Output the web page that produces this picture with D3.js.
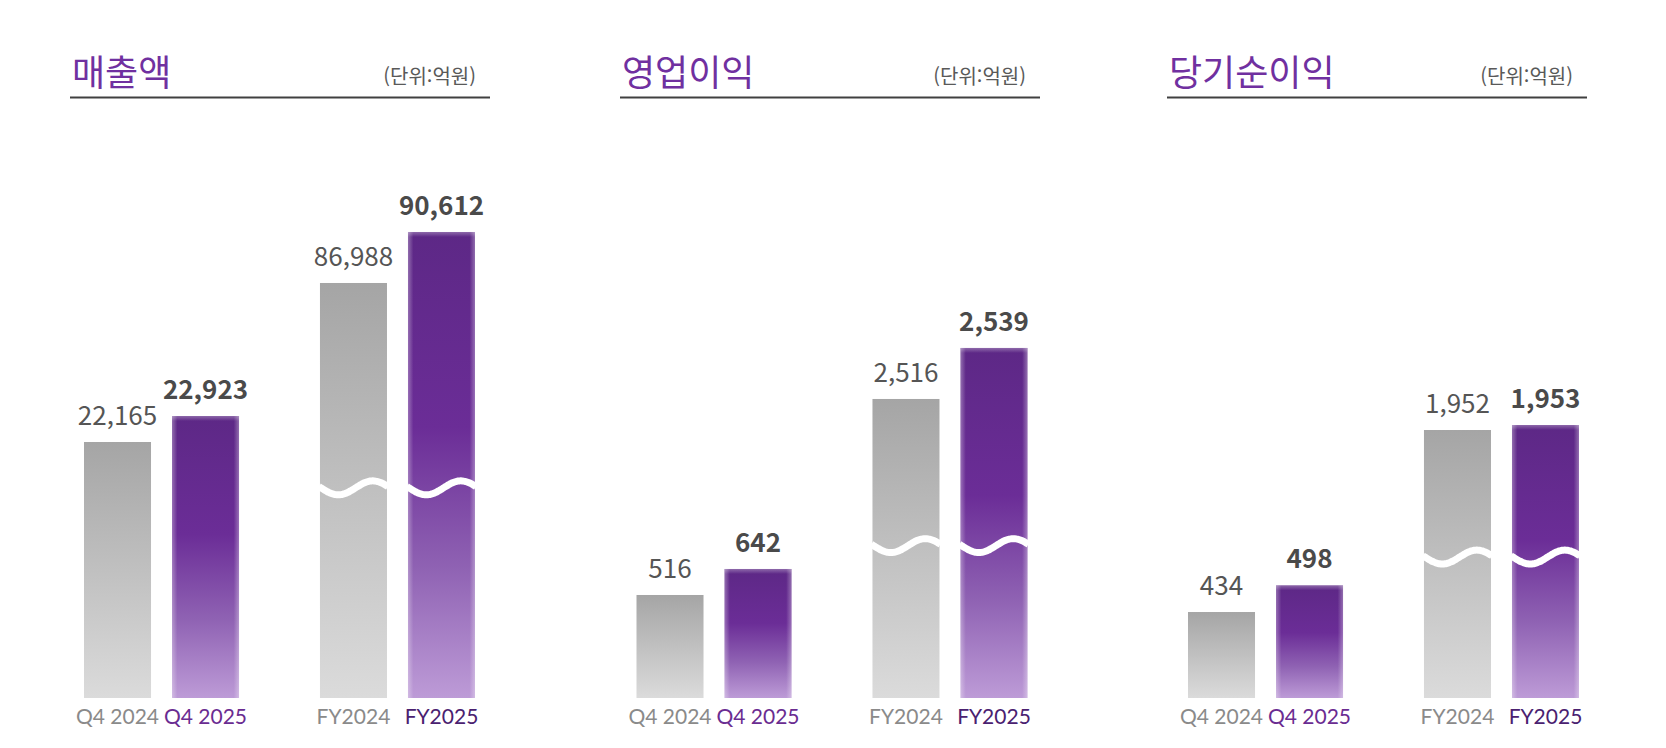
<!DOCTYPE html>
<html lang="ko">
<head>
<meta charset="utf-8">
<script src="https://cdn.jsdelivr.net/npm/d3@7"></script>
<style>
  html, body { margin: 0; padding: 0; background: #ffffff; }
  svg { display: block; }
</style>
</head>
<body>
<svg id="chart" width="1666" height="748"></svg>
<script>
// ---------------- DATA ----------------
const panelTitles = ['매출액', '영업이익', '당기순이익'];
const unitLabel = '(단위:억원)';
const groups = ['Q4', 'FY'];
const periods = ['Q4 2024', 'Q4 2025', 'FY2024', 'FY2025'];
const periodGroup = ['Q4', 'Q4', 'FY', 'FY'];
const periodYear = ['2024', '2025', '2024', '2025'];
const revenue = [22165, 22923, 86988, 90612];
const operatingProfit = [516, 642, 2516, 2539];
const netIncome = [434, 498, 1952, 1953];
// truncated value axes used by the infographic (min, max) for each group
const q4AxisDomains = [[14702, 29220], [16.8, 2430], [227.9, 1421.6]];
const fyAxisDomains = [[57498, 92885], [2381.2, 2605.7], [1898.4, 1998]];
// where the axis-break wave is drawn on the FY bars (fraction of plot height)
const breakFractions = [0.422, 0.306, 0.283];

// ---------------- LAYOUT / STYLE ----------------
const W = 1666, H = 748;
const headerX = [70, 620, 1167];
const headerWidth = 420;
const barsX = [84, 636.5, 1188];
const barsSpan = 391;
const baselineY = 698, plotTopY = 200;
const colors = {
  title: '#7030a0', unit: '#595959', rule: '#404040',
  valueNormal: '#555555', valueBold: '#4a4a4a',
  labelGray: '#8a8a8a', labelQ: '#6a2c91', labelFY: '#4a2170'
};

const svg = d3.select('#chart');
const defs = svg.append('defs');

function linGrad(id, x2, y2, stops) {
  const g = defs.append('linearGradient').attr('id', id)
    .attr('x1', 0).attr('y1', 0).attr('x2', x2).attr('y2', y2);
  stops.forEach(s => g.append('stop').attr('offset', s[0])
    .attr('stop-color', s[1]).attr('stop-opacity', s[2] == null ? 1 : s[2]));
}
linGrad('grayGrad', 0, 1, [[0, '#a5a5a5'], [1, '#dbdbdb']]);
linGrad('purpleGrad', 0, 1, [[0, '#5d2886'], [0.42, '#6b2d97'], [0.72, '#8f62b3'], [1, '#bd9bd7']]);
linGrad('edgeGrad', 1, 0, [[0, '#ffffff', 0.32], [0.08, '#ffffff', 0], [0.92, '#ffffff', 0], [1, '#ffffff', 0.32]]);
linGrad('topGrad', 0, 1, [[0, '#ffffff', 0.3], [1, '#ffffff', 0]]);

const datasets = [revenue, operatingProfit, netIncome];
const fmt = d3.format(',');

const yRange = [baselineY, plotTopY];

datasets.forEach((values, p) => {
  const g = svg.append('g');

  // header
  g.append('text')
    .attr('x', headerX[p] + 2).attr('y', 86)
    .attr('font-family', '"Noto Sans CJK KR", "Noto Sans", sans-serif')
    .attr('font-size', 36).attr('fill', colors.title)
    .text(panelTitles[p]);
  g.append('text')
    .attr('x', headerX[p] + headerWidth - 14).attr('y', 84)
    .attr('text-anchor', 'end')
    .attr('font-family', '"Noto Sans CJK KR", "Noto Sans", sans-serif')
    .attr('font-size', 20).attr('fill', colors.unit)
    .text(unitLabel);
  g.append('line')
    .attr('x1', headerX[p]).attr('x2', headerX[p] + headerWidth)
    .attr('y1', 97.5).attr('y2', 97.5)
    .attr('stroke', colors.rule).attr('stroke-width', 1.8);

  // scales
  const xGroup = d3.scaleBand().domain(groups)
    .range([barsX[p], barsX[p] + barsSpan]).paddingInner(0.343).paddingOuter(0);
  const xYear = d3.scaleBand().domain(['2024', '2025'])
    .range([0, xGroup.bandwidth()]).paddingInner(0.2386).paddingOuter(0);
  const yScales = {
    Q4: d3.scaleLinear().domain(q4AxisDomains[p]).range(yRange),
    FY: d3.scaleLinear().domain(fyAxisDomains[p]).range(yRange)
  };
  const breakY = d3.scaleLinear().domain([0, 1]).range(yRange)(breakFractions[p]);

  const rows = values.map((v, i) => ({
    v, label: periods[i], grp: periodGroup[i], yr: periodYear[i]
  }));

  rows.forEach(d => {
    const x = xGroup(d.grp) + xYear(d.yr);
    const w = xYear.bandwidth();
    const y = yScales[d.grp](d.v);
    const h = baselineY - y;
    const isNew = d.yr === '2025';

    g.append('rect').attr('x', x).attr('y', y).attr('width', w).attr('height', h)
      .attr('fill', isNew ? 'url(#purpleGrad)' : 'url(#grayGrad)');
    if (isNew) {
      g.append('rect').attr('x', x).attr('y', y).attr('width', w).attr('height', h)
        .attr('fill', 'url(#edgeGrad)');
      g.append('rect').attr('x', x).attr('y', y).attr('width', w).attr('height', 5)
        .attr('fill', 'url(#topGrad)');
    }

    // axis-break wave on FY bars
    if (d.grp === 'FY') {
      const pts = d3.range(0, 1.0001, 0.02).map(t =>
        [x - 1 + t * (w + 2), breakY + 7 * Math.cos(2 * Math.PI * (t - 0.28))]);
      g.append('path')
        .attr('d', d3.line().curve(d3.curveBasis)(pts))
        .attr('fill', 'none').attr('stroke', '#ffffff').attr('stroke-width', 7);
    }

    // value label
    g.append('text')
      .attr('x', x + w / 2).attr('y', y - 17)
      .attr('text-anchor', 'middle')
      .attr('font-family', '"Noto Sans CJK KR", "Source Sans Pro", sans-serif')
      .attr('font-size', 26)
      .attr('font-weight', isNew ? 700 : 400)
      .attr('fill', isNew ? colors.valueBold : colors.valueNormal)
      .text(fmt(d.v));

    // category label
    g.append('text')
      .attr('x', x + w / 2).attr('y', 724)
      .attr('text-anchor', 'middle')
      .attr('font-family', 'Lato, sans-serif')
      .attr('font-size', 21)
      .attr('fill', !isNew ? colors.labelGray : (d.grp === 'Q4' ? colors.labelQ : colors.labelFY))
      .text(d.label);
  });
});
</script>
</body>
</html>
